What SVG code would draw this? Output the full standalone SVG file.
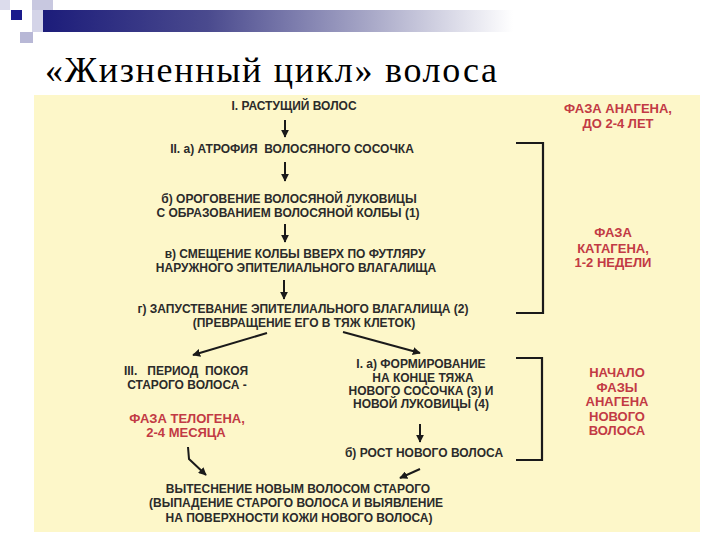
<svg xmlns="http://www.w3.org/2000/svg" width="720" height="540" viewBox="0 0 720 540">
<defs>
<linearGradient id="bar" x1="0" y1="0" x2="1" y2="0">
<stop offset="0" stop-color="#1c1c7a"/>
<stop offset="0.35" stop-color="#4a4a8e"/>
<stop offset="0.7" stop-color="#a9a9c8"/>
<stop offset="1" stop-color="#ffffff"/>
</linearGradient>
<marker id="ah" viewBox="0 0 10 10" refX="9" refY="5" markerWidth="4" markerHeight="4" orient="auto" markerUnits="strokeWidth">
<path d="M0,0 L10,5 L0,10 z" fill="#1a1a1a"/>
</marker>
<style>
.t{font-family:"Liberation Sans",Arial,sans-serif;font-weight:bold;font-size:12px;fill:#2b2b2b;text-anchor:middle}
.r{font-family:"Liberation Sans",Arial,sans-serif;font-weight:bold;font-size:13px;fill:#c23a44;text-anchor:middle}
.a{stroke:#1a1a1a;stroke-width:2;fill:none;marker-end:url(#ah)}
.b{stroke:#1a1a1a;stroke-width:2.2;fill:none}
.h{font-family:"Liberation Serif","Times New Roman",serif;font-size:36px;fill:#000}
</style>
</defs>
<rect width="720" height="540" fill="#ffffff"/>
<g id="decor">
<rect x="43" y="10" width="470" height="22" fill="url(#bar)"/>
<rect x="32" y="0" width="21" height="10" fill="#c8c8e0"/>
<rect x="0" y="0" width="10" height="10" fill="#dcdcec"/>
<rect x="11" y="10" width="11" height="10" fill="#1a1a8c"/>
<rect x="32" y="10" width="11" height="22" fill="#d4d4e8"/>
<rect x="20" y="32" width="13" height="11" fill="#b8b8d6"/>
</g>
<text class="h" x="45" y="82" textLength="452">«Жизненный цикл» волоса</text>
<rect id="panel" x="34" y="95" width="666" height="437" fill="#fdf7c9"/>
<g id="connectors">
<line class="a" x1="285" y1="120" x2="285" y2="137"/>
<line class="a" x1="285" y1="162" x2="285" y2="181"/>
<line class="a" x1="285" y1="224" x2="285" y2="242"/>
<line class="a" x1="284" y1="280" x2="284" y2="299"/>
<line class="a" x1="267" y1="333" x2="193" y2="355"/>
<line class="a" x1="343" y1="332" x2="420" y2="353"/>
<line class="a" x1="420" y1="424" x2="420" y2="442"/>
<line class="a" x1="420" y1="469" x2="400" y2="478"/>
<path class="a" d="M188,447 L189,459 L206,475"/>
<path class="b" d="M516,143 H543 V313 H516"/>
<path class="b" d="M516,358 H542 V460 H516"/>
</g>
<g id="n1"><text class="t" x="294" y="110">I. РАСТУЩИЙ ВОЛОС</text></g>
<g id="n2"><text class="t" x="292" y="153" xml:space="preserve">II. а) АТРОФИЯ  ВОЛОСЯНОГО СОСОЧКА</text></g>
<g id="n3"><text class="t" x="289" y="203">б) ОРОГОВЕНИЕ ВОЛОСЯНОЙ ЛУКОВИЦЫ</text><text class="t" x="288" y="217">С ОБРАЗОВАНИЕМ ВОЛОСЯНОЙ КОЛБЫ (1)</text></g>
<g id="n4"><text class="t" x="295" y="258">в) СМЕЩЕНИЕ КОЛБЫ ВВЕРХ ПО ФУТЛЯРУ</text><text class="t" x="296" y="272">НАРУЖНОГО ЭПИТЕЛИАЛЬНОГО ВЛАГАЛИЩА</text></g>
<g id="n5"><text class="t" x="303" y="313">г) ЗАПУСТЕВАНИЕ ЭПИТЕЛИАЛЬНОГО ВЛАГАЛИЩА (2)</text><text class="t" x="304" y="327">(ПРЕВРАЩЕНИЕ ЕГО В ТЯЖ КЛЕТОК)</text></g>
<g id="n6"><text class="t" x="186" y="375" xml:space="preserve">III.   ПЕРИОД  ПОКОЯ</text><text class="t" x="187" y="389">СТАРОГО ВОЛОСА -</text><text class="r" x="187" y="423">ФАЗА ТЕЛОГЕНА,</text><text class="r" x="186" y="437">2-4 МЕСЯЦА</text></g>
<g id="n7"><text class="t" x="421" y="368">I. а) ФОРМИРОВАНИЕ</text><text class="t" x="423" y="382">НА КОНЦЕ ТЯЖА</text><text class="t" x="421" y="395">НОВОГО СОСОЧКА (3) И</text><text class="t" x="421" y="408">НОВОЙ ЛУКОВИЦЫ (4)</text></g>
<g id="n8"><text class="t" x="424" y="457">б) РОСТ НОВОГО ВОЛОСА</text></g>
<g id="n9"><text class="t" x="298" y="493">ВЫТЕСНЕНИЕ НОВЫМ ВОЛОСОМ СТАРОГО</text><text class="t" x="296" y="507">(ВЫПАДЕНИЕ СТАРОГО ВОЛОСА И ВЫЯВЛЕНИЕ</text><text class="t" x="299" y="522">НА ПОВЕРХНОСТИ КОЖИ НОВОГО ВОЛОСА)</text></g>
<g id="p1"><text class="r" x="618" y="113">ФАЗА АНАГЕНА,</text><text class="r" x="618" y="128">ДО 2-4 ЛЕТ</text></g>
<g id="p2"><text class="r" x="613" y="237">ФАЗА</text><text class="r" x="613" y="253">КАТАГЕНА,</text><text class="r" x="613" y="267">1-2 НЕДЕЛИ</text></g>
<g id="p3"><text class="r" x="617" y="377">НАЧАЛО</text><text class="r" x="617" y="392">ФАЗЫ</text><text class="r" x="617" y="406">АНАГЕНА</text><text class="r" x="617" y="421">НОВОГО</text><text class="r" x="617" y="435">ВОЛОСА</text></g>
</svg>
